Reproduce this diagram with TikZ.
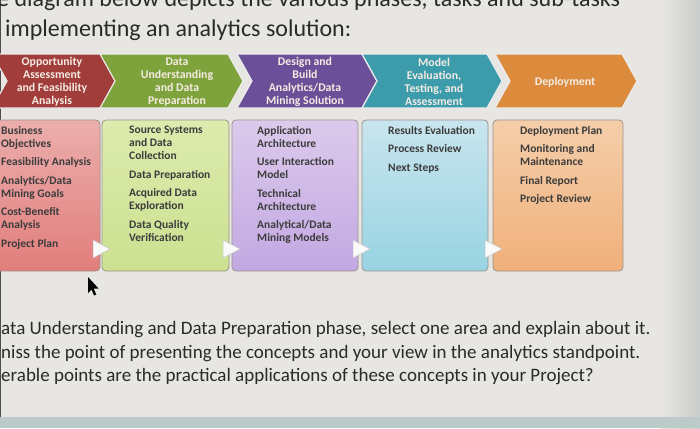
\documentclass[tikz,border=0pt]{standalone}
\usepackage{fontspec}
\setmainfont{Carlito}

\definecolor{pagebg}{HTML}{E8E6E2}
\definecolor{inktext}{HTML}{2A2A2A}
\definecolor{phasetext}{HTML}{F6ECE4}
\definecolor{tasktext}{HTML}{3C3C3C}
\definecolor{boxedge}{HTML}{9C928C}
\definecolor{oppdark}{HTML}{A13E3C}
\definecolor{datdark}{HTML}{7FA33C}
\definecolor{desdark}{HTML}{6B4F98}
\definecolor{moddark}{HTML}{3C9CAC}
\definecolor{depdark}{HTML}{DC8B3C}
\definecolor{opptop}{HTML}{EBAEAC}
\definecolor{oppbot}{HTML}{E27E7C}
\definecolor{dattop}{HTML}{DDEBAE}
\definecolor{datbot}{HTML}{CBE190}
\definecolor{destop}{HTML}{DCCAEC}
\definecolor{desbot}{HTML}{C2A8E2}
\definecolor{modtop}{HTML}{C8E5EE}
\definecolor{modbot}{HTML}{98D3E2}
\definecolor{deptop}{HTML}{F4CEAA}
\definecolor{depbot}{HTML}{F0B07A}
\definecolor{bezel}{HTML}{C9CCCA}
\definecolor{deskband}{HTML}{BCCACA}

% chevron from #1 to #2, fill #3
\newcommand{\phasechev}[3]{%
  \fill[#3] (#1,54) -- (#2-15,54) -- (#2,81) -- (#2-15,108) -- (#1,108) -- (#1+15,81) -- cycle;
  \draw[white!85!gray, line width=1.2pt] (#1,54) -- (#2-15,54) -- (#2,81) -- (#2-15,108) -- (#1,108) -- (#1+15,81) -- cycle;}

\begin{document}
\begin{tikzpicture}[x=1pt,y=-1pt]
	\tikzset{
		phase/.style={font=\fontsize{11.8}{13}\selectfont\bfseries, text=phasetext, align=center, inner sep=0pt},
		task/.style={font=\fontsize{11.5}{13}\selectfont\bfseries, text=tasktext, align=left, anchor=north west, inner sep=0pt},
		taskbox/.style={rounded corners=4pt, draw=boxedge, line width=0.8pt},
		nexttip/.style={fill=white!96!gray, draw=gray!45, line width=0.5pt},
		screen/.style={text=inktext, anchor=base west, inner sep=0pt},
	}
	\useasboundingbox (0,0) rectangle (700,428);
	\clip (0,0) rectangle (700,428);
	\fill[pagebg] (0,0) rectangle (700,428);
	\shade[left color=pagebg, right color=bezel] (660,0) rectangle (700,428);
	\fill[deskband] (0,417) rectangle (700,428);
	\draw[black!70, line width=1pt] (0.5,0) -- (0.5,417);

	% text above the diagram
	\node[screen, font=\fontsize{24}{28}\selectfont] (intro) at (-3, 7) {e diagram below depicts the various phases, tasks and sub-tasks};
	\node[screen, font=\fontsize{24}{28}\selectfont] (introb) at (5, 37) {implementing an analytics solution:};

	% phases
	\phasechev{-8}{118}{oppdark}
	\phasechev{100}{243}{datdark}
	\phasechev{237}{377}{desdark}
	\phasechev{362}{502}{moddark}
	\phasechev{495}{637}{depdark}
	\node[phase] (opp) at (52, 82) {Opportunity\\Assessment\\and Feasibility\\Analysis};
	\node[phase] (dat) at (177, 82) {Data\\Understanding\\and Data\\Preparation};
	\node[phase] (des) at (305, 82) {Design and\\Build\\Analytics/Data\\Mining Solution};
	\node[phase] (mod) at (434, 82) {Model\\Evaluation,\\Testing, and\\Assessment};
	\node[phase] (dep) at (565, 82) {Deployment};

	% tasks
	\path[taskbox, top color=opptop, bottom color=oppbot] (-10,120) rectangle (100,271);
	\path[taskbox, top color=dattop, bottom color=datbot] (102,120) rectangle (229,271);
	\path[taskbox, top color=destop, bottom color=desbot] (232,120) rectangle (358,271);
	\path[taskbox, top color=modtop, bottom color=modbot] (362,120) rectangle (488,271);
	\path[taskbox, top color=deptop, bottom color=depbot] (493,120) rectangle (623,271);
	\node[task] (oppTasks) at (1, 126) {Business\\Objectives\\[5.5pt]Feasibility Analysis\\[5.5pt]Analytics/Data\\Mining Goals\\[5.5pt]Cost-Benefit\\Analysis\\[5.5pt]Project Plan};
	\node[task] (datTasks) at (129, 126) {Source Systems\\and Data\\Collection\\[5.5pt]Data Preparation\\[5.5pt]Acquired Data\\Exploration\\[5.5pt]Data Quality\\Verification};
	\node[task] (desTasks) at (257, 126) {Application\\Architecture\\[5.5pt]User Interaction\\Model\\[5.5pt]Technical\\Architecture\\[5.5pt]Analytical/Data\\Mining Models};
	\node[task] (modTasks) at (388, 126) {Results Evaluation\\[5.5pt]Process Review\\[5.5pt]Next Steps};
	\node[task] (depTasks) at (520, 126) {Deployment Plan\\[5.5pt]Monitoring and\\Maintenance\\[5.5pt]Final Report\\[5.5pt]Project Review};
	\foreach \x in {93, 223, 353, 485} {
		\path[nexttip] (\x,240) -- (\x+17,249) -- (\x,258) -- cycle;
	}

	% mouse pointer
	\fill[black] (88,277) -- (88,293) -- (91.5,289.5) -- (94,295.5) -- (96.3,294.5) -- (93.7,288.7) -- (98.5,288.5) -- cycle;

	% question text
	\node[screen, font=\fontsize{19}{24}\selectfont] (task) at (1, 334) {ata Understanding and Data Preparation phase, select one area and explain about it.};
	\node[screen, font=\fontsize{19}{24}\selectfont] (taskb) at (1, 358) {niss the point of presenting the concepts and your view in the analytics standpoint.};
	\node[screen, font=\fontsize{19}{24}\selectfont] (taskc) at (1, 381) {erable points are the practical applications of these concepts in your Project?};
\end{tikzpicture}
\end{document}
